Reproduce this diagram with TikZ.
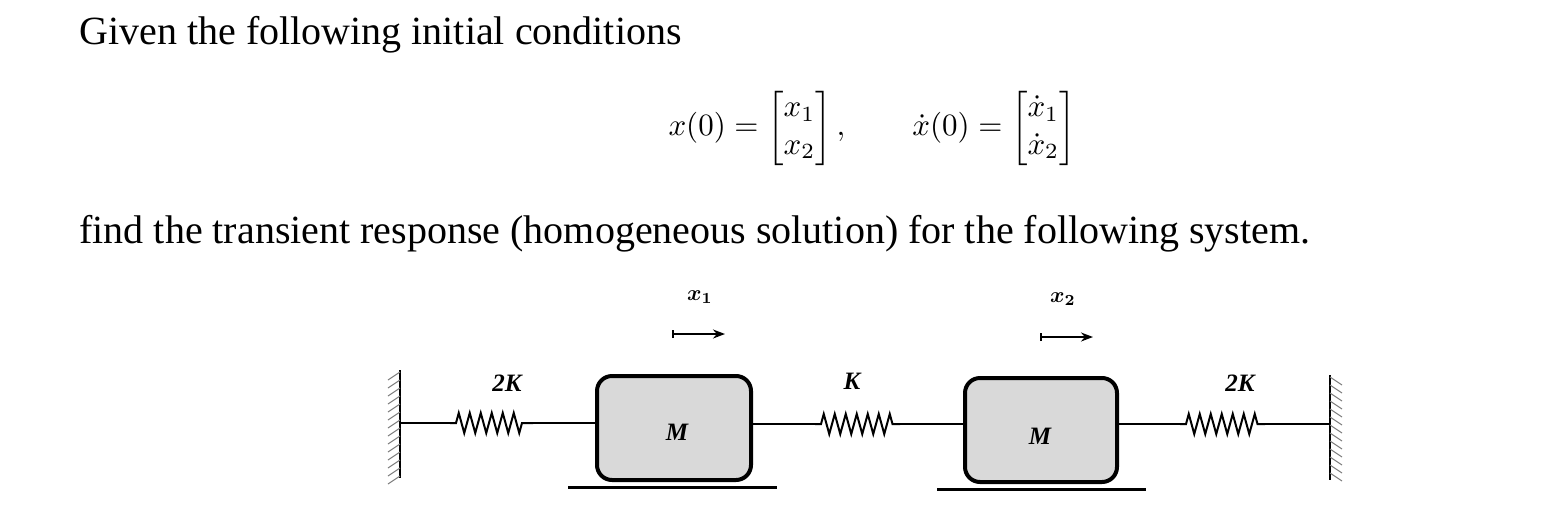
\documentclass[tikz,border=0pt]{standalone}
\usepackage{amsmath}
\usepackage{fontspec}
\setmainfont{Liberation Serif}
\usetikzlibrary{decorations.pathmorphing,patterns,arrows.meta}
\begin{document}
\begin{tikzpicture}[x=1pt,y=-1pt,
  massbox/.style={draw,line width=4pt,fill=gray!30,rounded corners=15pt},
  ground/.style={line width=3pt},
  rod/.style={line width=2.5pt},
  springy/.style={line width=2pt,decorate,decoration={zigzag,segment length=11pt,amplitude=10pt,pre length=6pt,post length=6pt}},
  lbl/.style={font=\fontsize{25}{30}\selectfont\bfseries\itshape},
  disp/.style={line width=1.8pt,{Bar[width=8pt]}-{Stealth[length=12pt,width=9pt]}}]
\useasboundingbox (0,0) rectangle (1566,531);
\node[anchor=base west,font=\fontsize{40}{44}\selectfont] (t1) at (76,44) {Given the following initial conditions};
\node[scale=3.1] (eq) at (872,128) {$x(0)=\begin{bmatrix}x_1\\x_2\end{bmatrix},\qquad \dot x(0)=\begin{bmatrix}\dot x_1\\\dot x_2\end{bmatrix}$};
\node[anchor=base west,font=\fontsize{40}{44}\selectfont] (t2) at (76,243) {find the transient response (homogeneous solution) for the following system.};
% walls
\draw[line width=2pt] (400,370) -- (400,478);
\foreach \y in {372,380,...,476} \draw[gray,line width=1pt] (400,\y) -- (388,\y+8);
\draw[line width=2pt] (1330,375) -- (1330,480);
\foreach \y in {377,385,...,479} \draw[gray,line width=1pt] (1330,\y) -- (1342,\y+8);
% masses
\node[massbox,minimum width=154pt,minimum height=104pt] (m1) at (674,428) {};
\node[lbl] at (677,432) {M};
\node[massbox,minimum width=152pt,minimum height=104pt] (m2) at (1041,430) {};
\node[lbl] at (1040,436) {M};
\draw[ground] (568,487) -- (777,487);
\draw[ground] (937,489) -- (1146,489);
% springs
\coordinate (a1) at (400,423); \coordinate (s1a) at (450,423); \coordinate (s1b) at (533,423);
\draw[rod] (a1) -- (s1a); \draw[springy] (s1a) -- (s1b); \draw[rod] (s1b) -- (m1.west |- s1b);
\coordinate (s2a) at (815,424); \coordinate (s2b) at (900,424);
\draw[rod] (m1.east |- s2a) -- (s2a); \draw[springy] (s2a) -- (s2b); \draw[rod] (s2b) -- (m2.west |- s2b);
\coordinate (s3a) at (1180,424); \coordinate (s3b) at (1265,424); \coordinate (a3) at (1330,424);
\draw[rod] (m2.east |- s3a) -- (s3a); \draw[springy] (s3a) -- (s3b); \draw[rod] (s3b) -- (a3);
\node[lbl] at (507,383) {2K};
\node[lbl] at (852,381) {K};
\node[lbl] at (1240,383) {2K};
% displacements
\node[scale=2.2] at (700,297) {$\boldsymbol{x_1}$};
\coordinate (d1a) at (672,334); \coordinate (d1b) at (725,334);
\draw[disp] (d1a) -- (d1b);
\node[scale=2.2] at (1063,299) {$\boldsymbol{x_2}$};
\coordinate (d2a) at (1040,337); \coordinate (d2b) at (1093,337);
\draw[disp] (d2a) -- (d2b);
\end{tikzpicture}
\end{document}
